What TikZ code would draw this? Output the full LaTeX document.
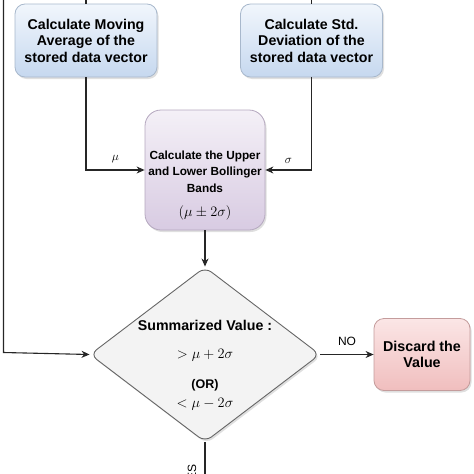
\documentclass[tikz,border=0pt]{standalone}
\usepackage[no-math]{fontspec}
\setmainfont{Liberation Sans}
\usetikzlibrary{shapes.geometric,arrows.meta,shadows}
\definecolor{blueTop}{HTML}{F1F6FC}
\definecolor{blueBot}{HTML}{C6D8EF}
\definecolor{blueEdge}{HTML}{A8B8CC}
\definecolor{purTop}{HTML}{F4F0F7}
\definecolor{purBot}{HTML}{D8CBE2}
\definecolor{purEdge}{HTML}{B5A8BF}
\definecolor{redTop}{HTML}{FBE6E6}
\definecolor{redBot}{HTML}{F0BEBE}
\definecolor{redEdge}{HTML}{C49C9C}
\definecolor{dFill}{HTML}{F3F3F3}
\definecolor{dEdge}{HTML}{666666}
\tikzset{
  boxbase/.style={draw, line width=0.8pt, rounded corners=10pt, inner sep=0pt, align=center,
    font=\bfseries\fontsize{14.2}{16.5}\selectfont,
    drop shadow={shadow xshift=1.5pt, shadow yshift=-2pt, opacity=0.25}},
  bluebox/.style={boxbase, draw=blueEdge, top color=blueTop, bottom color=blueBot,
    minimum width=142pt, minimum height=73pt},
  purbox/.style={boxbase, draw=purEdge, top color=purTop, bottom color=purBot, rounded corners=16pt,
    minimum width=120pt, minimum height=120pt},
  redbox/.style={boxbase, draw=redEdge, top color=redTop, bottom color=redBot,
    minimum width=96pt, minimum height=72pt, font=\bfseries\fontsize{14.3}{15.5}\selectfont},
  decision/.style={diamond, draw=dEdge, fill=dFill, line width=0.9pt, rounded corners=8pt,
    minimum width=230pt, minimum height=175pt, inner sep=0pt,
    drop shadow={shadow xshift=1.5pt, shadow yshift=-2pt, opacity=0.25}},
  conn/.style={line width=1.1pt, draw=black!85},
  arr/.style={conn, -{Stealth[length=8pt,width=7pt,inset=2.5pt]}},
  lbl/.style={font=\fontsize{12}{14}\selectfont},
}
\begin{document}
\begin{tikzpicture}[x=1pt,y=-1pt]
\useasboundingbox (0,0) rectangle (474,474);
\clip (0,0) rectangle (474,474);

% nodes
\node[bluebox] (ma) at (86,40.5) {Calculate Moving\\Average of the\\stored data vector};
\node[bluebox] (sd) at (311.5,40.5) {Calculate Std.\\Deviation of the\\stored data vector};
\node[purbox] (bb) at (205,170) {};
\node[align=center, font=\bfseries\fontsize{11.8}{16.5}\selectfont] (bbt) at (205,171.5)
  {Calculate the Upper\\and Lower Bollinger\\Bands};
\node[font=\fontsize{15}{16}\selectfont] (bbm) at (205,213) {$(\mu\pm 2\sigma)$};
\node[decision] (dec) at (205,354.5) {};
\node[font=\bfseries\fontsize{14.2}{16}\selectfont] (d1) at (205,325) {Summarized Value :};
\node[font=\fontsize{14.7}{16}\selectfont] (d2) at (205,355) {$>\mu+2\sigma$};
\node[font=\bfseries\fontsize{12.5}{14}\selectfont] (d3) at (205,385) {(OR)};
\node[font=\fontsize{14.7}{16}\selectfont] (d4) at (205,404) {$<\mu-2\sigma$};
\node[redbox] (dis) at (422,354.5) {Discard the\\Value};

% free ends
\coordinate (tl) at (3.5,0);
\coordinate (bl) at (3.5,352.5);
\coordinate (ta) at (86,0);
\coordinate (ts) at (311.5,0);
\coordinate (ca) at (86,170);
\coordinate (cs) at (311.5,170);
\coordinate (bot) at (205,480);

% connectors
\draw[conn] (ta) -- (ma.north);
\draw[conn] (ts) -- (sd.north);
\draw[arr] (tl) -- (bl) -- (dec.west);
\draw[arr] (ma.south) -- (ca) -- (bb.west) node[pos=0.5, above=3pt, lbl] (mu) {$\mu$};
\draw[arr] (sd.south) -- (cs) -- (bb.east) node[pos=0.5, above=3pt, lbl] (sg) {$\sigma$};
\draw[arr] (bb.south) -- (dec.north);
\draw[arr] (dec.east) -- (dis.west) node[midway, above=5pt, lbl] (no) {NO};
\draw[conn] (dec.south) -- (bot);
\node[lbl, rotate=90, anchor=east] (yes) at (192,461) {YES};
\end{tikzpicture}
\end{document}
